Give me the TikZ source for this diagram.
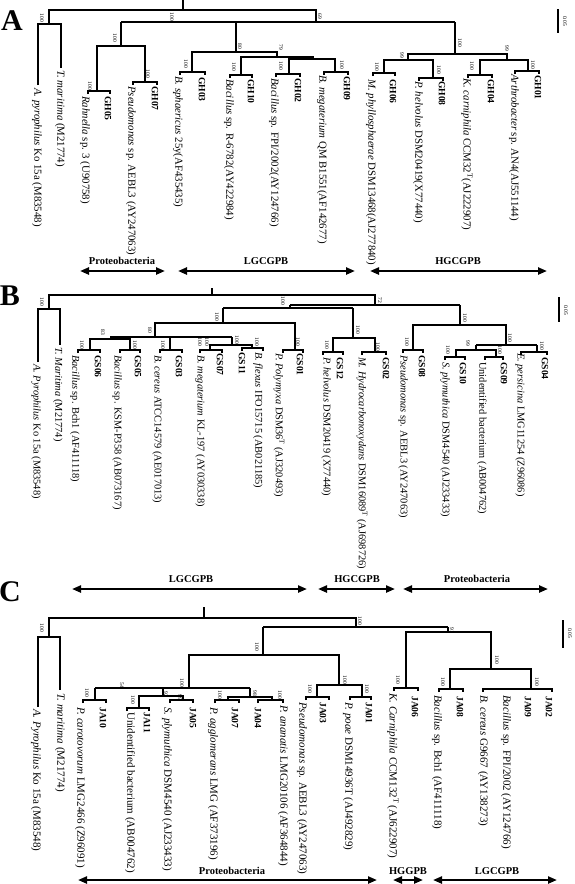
\documentclass[tikz,border=0pt]{standalone}
\usepackage{fontspec}
\setmainfont{Liberation Serif}
\usetikzlibrary{arrows.meta}
\newcounter{bsn}
\newcommand\bsl[3]{\stepcounter{bsn}\node[bs] (bs\thebsn) at (#1,#2) {#3};}
\newcommand\pairline[3]{\draw[pr] (#1,#3+3) -- (#1,#3) -- (#2,#3) -- (#2,#3+3);}
\begin{document}
\begin{tikzpicture}[x=1pt,y=-1pt,
  tr/.style={line width=1.5pt},
  pr/.style={line width=2.2pt},
  leaf/.style={rotate=-90, anchor=west, inner sep=0pt, font=\fontsize{10.8}{11}\selectfont},
  leafb/.style={leaf, font=\fontsize{10.4}{11}\selectfont},
  leafc/.style={leaf, font=\fontsize{11}{12}\selectfont},
  ghl/.style={rotate=-90, anchor=west, inner sep=0pt, font=\bfseries\fontsize{9.6}{10}\selectfont},
  bs/.style={rotate=-90, inner sep=0pt, font=\fontsize{5.5}{6}\selectfont},
  grp/.style={inner sep=0pt, font=\bfseries\fontsize{10.5}{12}\selectfont},
  garr/.style={line width=2.2pt, {Triangle[length=9pt,width=7pt]}-{Triangle[length=9pt,width=7pt]}},
  panel/.style={inner sep=0pt, font=\bfseries\fontsize{30}{30}\selectfont},
  sbar/.style={line width=1.8pt},
]
\useasboundingbox (0,0) rectangle (575,884);
\fill[white] (0,0) rectangle (575,884);

% ================= Panel A =================
\node[panel] (pA) at (12,21) {A};
\draw[tr] (183,0) -- (183,10);
\draw[tr] (49,24) -- (49,10) -- (316,10) -- (316,22);
\draw[tr] (38,85) -- (38,24) -- (61,24) -- (61,68);
\draw[tr] (121,22) -- (455,22);
\draw[tr] (121,22) -- (121,46);
\draw[tr] (97,91) -- (97,46) -- (145,46) -- (145,82);
\pairline{88}{110}{91}
\pairline{133}{157}{82}
\draw[tr] (236,22) -- (236,52);
\draw[tr] (192,72) -- (192,52) -- (277,52) -- (277,57);
\pairline{180}{205}{72}
\draw[tr] (241,75) -- (241,57) -- (313,57) -- (313,59);
\pairline{230}{252}{75}
\draw[pr] (289,74) -- (289,59) -- (335,59) -- (335,72);
\pairline{276}{300}{74}
\pairline{324}{348}{72}
\draw[tr] (455,22) -- (455,54);
\draw[tr] (408,60) -- (408,54) -- (507,54) -- (507,60);
\draw[tr] (384,73) -- (384,60) -- (433,60) -- (433,78);
\draw[tr] (480,75) -- (480,60) -- (528,60) -- (528,71);
\pairline{373}{395}{73}
\pairline{419}{443}{78}
\pairline{468}{492}{75}
\pairline{515}{539}{71}

\bsl{42}{18}{100}\bsl{172}{17}{100}\bsl{320}{16}{69}\bsl{115}{38}{100}
\bsl{90}{86}{100}\bsl{148}{74}{100}\bsl{240}{46}{80}\bsl{281}{47}{79}
\bsl{186}{64}{100}\bsl{234}{67}{100}\bsl{281}{66}{100}\bsl{342}{65}{100}
\bsl{460}{43}{100}\bsl{402}{55}{99}\bsl{507}{48}{99}\bsl{377}{67}{100}
\bsl{439}{70}{100}\bsl{472}{66}{100}\bsl{533}{65}{100}

\node[leaf] (a1) at (37,88) {\itshape A. pyrophilus\upshape\ Ko 15a (M83548)};
\node[leaf] (a2) at (60,70) {\itshape T. maritima\upshape\ (M21774)};
\node[leaf] (a3) at (85,96) {\itshape Rahnella\upshape\ sp. 3 (U90758)};
\node[ghl] (a4) at (108,96) {GH05};
\node[leaf] (a5) at (131,86) {\itshape Pseudomonas\upshape\ sp. AEBL3 (AY247063)};
\node[ghl] (a6) at (155,86) {GH07};
\node[leaf] (a7) at (178,76) {\itshape B. sphaericus\upshape\ 25y(AF435435)};
\node[ghl] (a8) at (202,77) {GH03};
\node[leaf] (a9) at (229,79) {\itshape Bacillus\upshape\ sp. R-6782(AY422984)};
\node[ghl] (a10) at (251,79) {GH10};
\node[leaf] (a11) at (274,78) {\itshape Bacillus\upshape\ sp. FPI/2002(AY124766)};
\node[ghl] (a12) at (298,78) {GH02};
\node[leaf] (a13) at (322,75) {\itshape B. megaterium\upshape\ QM B1551(AF142677)};
\node[ghl] (a14) at (347,76) {GH09};
\node[leaf] (a15) at (371,79) {\itshape M. phyllosphaerae\upshape\ DSM13468(AJ277840)};
\node[ghl] (a16) at (393,79) {GH06};
\node[leaf] (a17) at (418,81) {\itshape P. helvolus\upshape\ DSM20419(X77440)};
\node[ghl] (a18) at (442,81) {GH08};
\node[leaf] (a19) at (467,78) {\itshape K. carniphila\upshape\ CCM32\textsuperscript{T}(AJ222907)};
\node[ghl] (a20) at (491,79) {GH04};
\node[leaf] (a21) at (514,74) {\itshape Arthrobacter\upshape\ sp. AN4(AJ551144)};
\node[ghl] (a22) at (538,75) {GH01};

\draw[sbar] (558,9) -- (558,33);
\node[bs] (sA) at (565,21) {0.05};

\coordinate (aP1) at (80,271); \coordinate (aP2) at (165,271);
\coordinate (aL1) at (178,271); \coordinate (aL2) at (355,271);
\coordinate (aH1) at (370,271); \coordinate (aH2) at (547,271);
\draw[garr] (aP1) -- (aP2);
\draw[garr] (aL1) -- (aL2);
\draw[garr] (aH1) -- (aH2);
\node[grp] (gA1) at (122,261) {Proteobacteria};
\node[grp] (gA2) at (266,261) {LGCGPB};
\node[grp] (gA3) at (458,261) {HGCGPB};

% ================= Panel B =================
\node[panel] (pB) at (10,296) {B};
\draw[tr] (212,288) -- (212,295);
\draw[tr] (49,309) -- (49,295) -- (375,295) -- (375,305);
\draw[tr] (38,362) -- (38,309) -- (60,309) -- (60,345);
\draw[tr] (290,305) -- (460,305);
\draw[tr] (290,305) -- (290,308);
\draw[pr] (223,308) -- (353,308);
\draw[tr] (223,308) -- (223,323);
\draw[tr] (155,337) -- (155,323) -- (295,323) -- (295,350);
\draw[pr] (110,337) -- (232,337);
\draw[tr] (90,350) -- (90,339) -- (130,339) -- (130,350);
\pairline{78}{100}{350}
\pairline{120}{140}{350}
\draw[tr] (170,337) -- (170,350);
\pairline{160}{182}{350}
\draw[tr] (232,337) -- (232,345);
\draw[pr] (210,350) -- (210,345) -- (252,345) -- (252,348);
\pairline{200}{222}{350}
\pairline{242}{263}{348}
\pairline{283}{303}{350}
\draw[tr] (353,308) -- (353,338);
\draw[tr] (333,352) -- (333,338) -- (375,338) -- (375,352);
\pairline{323}{343}{352}
\pairline{362}{386}{352}
\draw[tr] (460,305) -- (460,325);
\draw[tr] (413,350) -- (413,325) -- (506,325) -- (506,345);
\pairline{403}{423}{350}
\draw[tr] (476,345) -- (537,345);
\draw[tr] (476,345) -- (476,350);
\draw[tr] (456,357) -- (456,350) -- (496,350) -- (496,357);
\pairline{445}{465}{357}
\pairline{485}{503}{357}
\draw[tr] (537,345) -- (537,352);
\pairline{521}{547}{352}

\bsl{42}{302}{100}\bsl{283}{301}{100}\bsl{380}{300}{72}\bsl{217}{317}{100}
\bsl{150}{330}{80}\bsl{103}{332}{83}\bsl{82}{345}{100}\bsl{135}{345}{100}
\bsl{163}{345}{100}\bsl{200}{342}{100}\bsl{207}{342}{100}\bsl{237}{340}{100}
\bsl{257}{342}{100}\bsl{298}{342}{100}\bsl{358}{330}{100}\bsl{327}{345}{100}
\bsl{378}{347}{100}\bsl{465}{318}{100}\bsl{407}{342}{100}\bsl{510}{338}{100}
\bsl{468}{343}{99}\bsl{448}{350}{100}\bsl{500}{350}{100}\bsl{542}{346}{100}

\node[leafb] (b1) at (36,364) {\itshape A. Pyrophilus\upshape\ Ko 15a (M83548)};
\node[leafb] (b2) at (58,347) {\itshape T. Maritima\upshape\ (M21774)};
\node[leafb] (b3) at (75,355) {\itshape Bacillus\upshape\ sp. Bch1 (AF411118)};
\node[ghl] (b4) at (98,355) {GS06};
\node[leafb] (b5) at (117,355) {\itshape Bacillus\upshape\ sp. KSM-P358 (AB073167)};
\node[ghl] (b6) at (138,355) {GS05};
\node[leafb] (b7) at (157,355) {\itshape B. cereus\upshape\ ATCC14579 (AE017013)};
\node[ghl] (b8) at (179,355) {GS03};
\node[leafb] (b9) at (200,355) {\itshape B. megaterium\upshape\ KL-197 (AY030338)};
\node[ghl] (b10) at (220,353) {GS07};
\node[ghl] (b11) at (242,352) {GS11};
\node[leafb] (b12) at (258,352) {\itshape B. flexus\upshape\ IFO15715 (AB021185)};
\node[leafb] (b13) at (279,353) {\itshape P. Polymyxa\upshape\ DSM36\textsuperscript{T} (AJ320493)};
\node[ghl] (b14) at (300,353) {GS01};
\node[leafb] (b15) at (326,357) {\itshape P. helvolus\upshape\ DSM20419 (X77440)};
\node[ghl] (b16) at (340,357) {GS12};
\node[leafb] (b17) at (362,357) {\itshape M. Hydrocarbonoxydans\upshape\ DSM16089\textsuperscript{T} (AJ698726)};
\node[ghl] (b18) at (386,357) {GS02};
\node[leafb] (b19) at (403,355) {\itshape Pseudomonas\upshape\ sp. AEBL3 (AY247063)};
\node[ghl] (b20) at (422,355) {GS08};
\node[leafb] (b21) at (445,362) {\itshape S. plymuthica\upshape\ DSM4540 (AJ233433)};
\node[ghl] (b22) at (463,362) {GS10};
\node[leafb] (b23) at (482,362) {Unidentified bacterium (AB004762)};
\node[ghl] (b24) at (504,362) {GS09};
\node[leafb] (b25) at (520,353) {\itshape E. persicina\upshape\ LMG11254 (Z96086)};
\node[ghl] (b26) at (545,357) {GS04};

\draw[sbar] (559,297) -- (559,322);
\node[bs] (sB) at (566,310) {0.05};

\coordinate (bL1) at (72,589); \coordinate (bL2) at (307,589);
\coordinate (bH1) at (318,589); \coordinate (bH2) at (395,589);
\coordinate (bP1) at (403,589); \coordinate (bP2) at (548,589);
\draw[garr] (bL1) -- (bL2);
\draw[garr] (bH1) -- (bH2);
\draw[garr] (bP1) -- (bP2);
\node[grp] (gB1) at (191,579) {LGCGPB};
\node[grp] (gB2) at (357,579) {HGCGPB};
\node[grp] (gB3) at (477,579) {Proteobacteria};

% ================= Panel C =================
\node[panel] (pC) at (10,592) {C};
\draw[tr] (204,607) -- (204,618);
\draw[tr] (49,637) -- (49,618) -- (356,618) -- (356,627);
\draw[tr] (38,707) -- (38,637) -- (60,637) -- (60,690);
\draw[tr] (263,627) -- (448,627);
\draw[tr] (263,627) -- (263,655);
\draw[tr] (189,688) -- (189,655) -- (339,655) -- (339,685);
\draw[tr] (317,697) -- (317,685) -- (362,685) -- (362,697);
\pairline{306}{329}{697}
\pairline{350}{371}{697}
\draw[pr] (95,688) -- (250,688);
\draw[tr] (95,688) -- (95,700);
\pairline{83}{106}{700}
\draw[tr] (163,688) -- (163,696);
\draw[tr] (139,708) -- (139,696) -- (183,696) -- (183,700);
\pairline{127}{149}{708}
\pairline{170}{193}{700}
\draw[tr] (250,688) -- (250,697);
\draw[tr] (228,700) -- (228,697) -- (272,697) -- (272,700);
\pairline{215}{239}{700}
\pairline{258}{283}{700}
\draw[tr] (448,627) -- (448,632);
\draw[tr] (406,688) -- (406,632) -- (491,632) -- (491,669);
\pairline{394}{418}{688}
\draw[tr] (450,689) -- (450,669) -- (531,669) -- (531,689);
\pairline{439}{463}{689}
\pairline{483}{552}{689}

\bsl{42}{628}{100}\bsl{360}{621}{100}\bsl{452}{630}{91}\bsl{257}{647}{100}
\bsl{182}{683}{100}\bsl{345}{680}{100}\bsl{122}{685}{54}\bsl{87}{693}{100}
\bsl{166}{694}{92}\bsl{133}{700}{100}\bsl{180}{697}{99}\bsl{220}{695}{100}
\bsl{255}{693}{98}\bsl{280}{695}{100}\bsl{310}{689}{100}\bsl{367}{689}{100}
\bsl{398}{680}{100}\bsl{497}{660}{100}\bsl{443}{682}{100}\bsl{537}{682}{100}

\node[leafc] (c1) at (36,709) {\itshape A. Pyrophilus\upshape\ Ko 15a (M83548)};
\node[leafc] (c2) at (60,693) {\itshape T. maritima\upshape\ (M21774)};
\node[leafc] (c3) at (80,707) {\itshape P. carotovorum\upshape\ LMG2466 (Z96091)};
\node[ghl] (c4) at (103,707) {JA10};
\node[leafc] (c5) at (130,712) {Unidentified bacterium (AB004762)};
\node[ghl] (c6) at (147,712) {JA11};
\node[leafc] (c7) at (167,707) {\itshape S. plymuthica\upshape\ DSM4540 (AJ233433)};
\node[ghl] (c8) at (193,707) {JA05};
\node[leafc] (c9) at (213,707) {\itshape P. agglomerans\upshape\ LMG (AF373196)};
\node[ghl] (c10) at (235,707) {JA07};
\node[ghl] (c11) at (258,707) {JA04};
\node[leafc] (c12) at (283,705) {\itshape P. ananatis\upshape\ LMG20106 (AF364844)};
\node[leafc] (c13) at (302,702) {\itshape Pseudomonas\upshape\ sp. AEBL3 (AY247063)};
\node[ghl] (c14) at (323,702) {JA03};
\node[leafc] (c15) at (348,702) {\itshape P. poae\upshape\ DSM14936T (AJ492829)};
\node[ghl] (c16) at (369,702) {JA01};
\node[leafc] (c17) at (393,693) {\itshape K. Carniphila\upshape\ CCM132\textsuperscript{T} (AJ622907)};
\node[ghl] (c18) at (415,696) {JA06};
\node[leafc] (c19) at (437,695) {\itshape Bacillus\upshape\ sp. Bch1 (AF411118)};
\node[ghl] (c20) at (460,696) {JA08};
\node[leafc] (c21) at (483,695) {\itshape B. cereus\upshape\ G9667 (AY138273)};
\node[leafc] (c22) at (506,695) {\itshape Bacillus\upshape\ sp. FPI/2002 (AY124766)};
\node[ghl] (c23) at (528,696) {JA09};
\node[ghl] (c24) at (549,696) {JA02};

\draw[sbar] (563,620) -- (563,648);
\node[bs] (sC) at (570,633) {0.05};

\coordinate (cP1) at (78,880); \coordinate (cP2) at (377,880);
\coordinate (cH1) at (393,880); \coordinate (cH2) at (423,880);
\coordinate (cL1) at (433,880); \coordinate (cL2) at (557,880);
\draw[garr] (cP1) -- (cP2);
\draw[garr] (cH1) -- (cH2);
\draw[garr] (cL1) -- (cL2);
\node[grp] (gC1) at (232,871) {Proteobacteria};
\node[grp] (gC2) at (408,871) {HGGPB};
\node[grp] (gC3) at (497,871) {LGCGPB};
\end{tikzpicture}
\end{document}
